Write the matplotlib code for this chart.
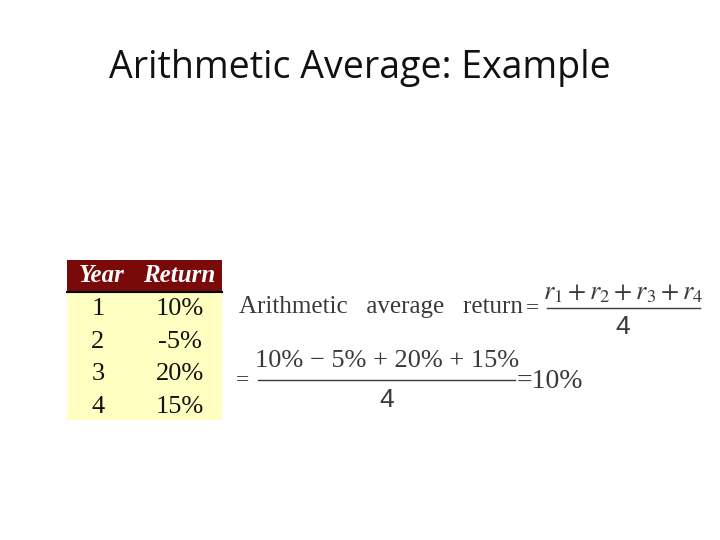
import matplotlib.pyplot as plt
from matplotlib.patches import Rectangle

plt.rcParams['mathtext.fontset'] = 'stix'

years = [1, 2, 3, 4]
returns = [10, -5, 20, 15]
title = 'Arithmetic Average: Example'

fig = plt.figure(figsize=(7.2, 5.4), dpi=100)
ax = fig.add_axes([0, 0, 1, 1])
ax.set_xlim(0, 720)
ax.set_ylim(540, 0)
ax.axis('off')

ax.text(360, 68, title, fontsize=27, family='Open Sans', ha='center', va='center', color='#111111')

# table
ax.add_patch(Rectangle((67, 260), 155, 32, color='#7A0A0A', lw=0))
ax.add_patch(Rectangle((67, 292), 155, 128, color='#FFFFC2', lw=0))
ax.plot([67, 222], [292, 292], color='black', lw=1.5)
serif = 'Liberation Serif'
ax.text(102, 276, 'Year', fontsize=18, family=serif, style='italic', weight='bold', color='white', ha='center', va='center')
ax.text(179, 276, 'Return', fontsize=18, family=serif, style='italic', weight='bold', color='white', ha='center', va='center')
for i, (y, r) in enumerate(zip(years, returns)):
    yy = 309 + i * 32.7
    ax.text(98, yy, str(y), fontsize=19, family=serif, ha='center', va='center', color='#111111')
    ax.text(180, yy, f'{r}%', fontsize=19, family=serif, ha='center', va='center', color='#111111')

c = '#3a3a3a'
ax.text(239, 307, 'Arithmetic   average   return', fontsize=18, family=serif, ha='left', va='center', color=c)
ax.text(526, 309, '=', fontsize=17, family=serif, ha='left', va='center', color=c)
ax.text(623, 292, r'$r_1+r_2+r_3+r_4$', fontsize=19, ha='center', va='center', color=c)
ax.plot([547, 700], [308, 308], color=c, lw=1)
ax.text(623, 327, '4', fontsize=19, family='Liberation Sans', ha='center', va='center', color=c)

num = ' + '.join(f'{r}%' for r in returns).replace('+ -', '\u2212 ')
avg = sum(returns) / len(returns)
ax.text(236, 381, '=', fontsize=17, family=serif, ha='left', va='center', color=c)
ax.text(387, 361, num, fontsize=19, family=serif, ha='center', va='center', color=c)
ax.plot([258, 515], [380, 380], color=c, lw=1)
ax.text(387, 400, '4', fontsize=19, family='Liberation Sans', ha='center', va='center', color=c)
ax.text(517, 381, f'={avg:.0f}%', fontsize=20, family=serif, ha='left', va='center', color=c)

fig.savefig('out.png', dpi=100, facecolor='white')
